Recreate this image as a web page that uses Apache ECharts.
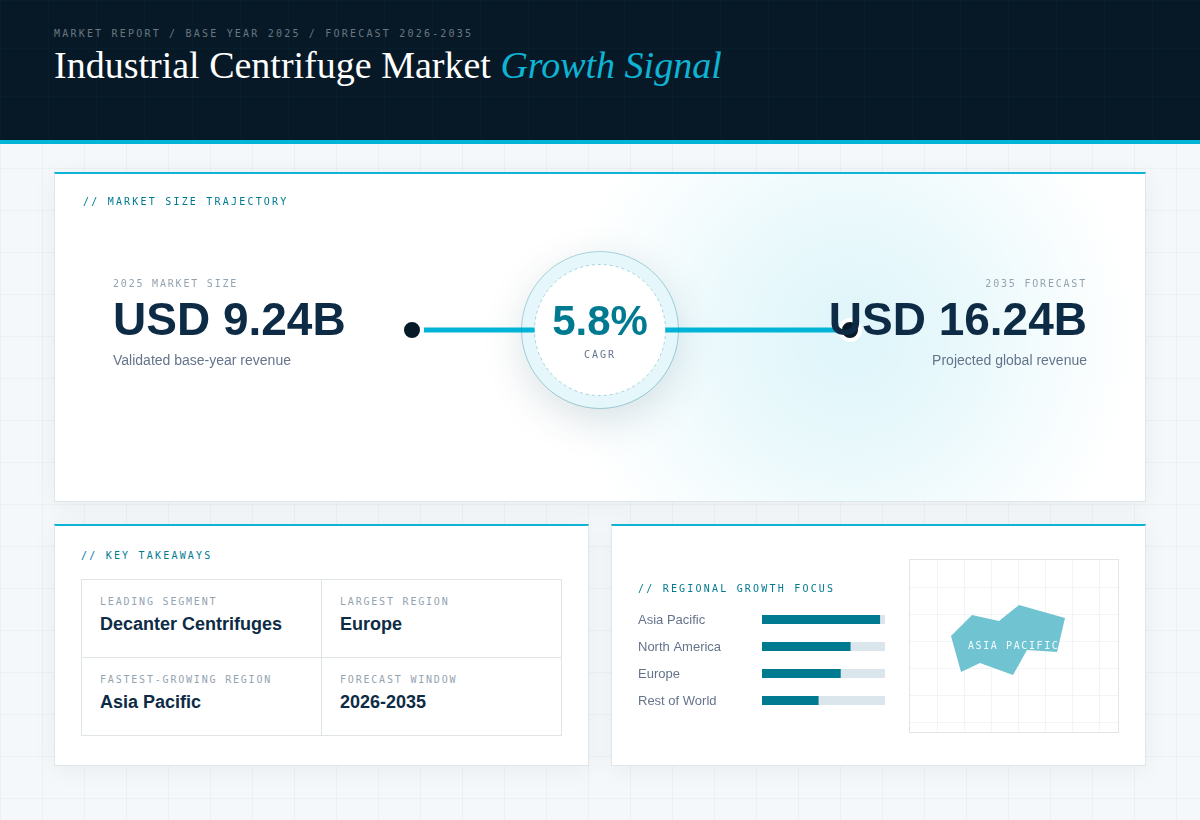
<!DOCTYPE html>
<html>
<head>
<meta charset="utf-8">
<title>Industrial Centrifuge Market</title>
<script src="https://cdn.jsdelivr.net/npm/echarts@6/dist/echarts.min.js"></script>
<style>
    html, body { margin: 0; padding: 0; }
    body {
        position: relative; width: 1200px; height: 820px; overflow: hidden;
        background-color: #f5f8fa;
        background-image:
            linear-gradient(rgba(7, 26, 40, .03) 1px, transparent 1px),
            linear-gradient(90deg, rgba(7, 26, 40, .03) 1px, transparent 1px);
        background-size: 42px 42px;
        background-position: 0 0, 0 0;
        font-family: "Liberation Sans", sans-serif;
    }
    .abs { position: absolute; white-space: nowrap; }
    .mono { font-family: "DejaVu Sans Mono", monospace; font-size: 10px; line-height: 12px; }
    #header {
        position: absolute; left: 0; top: 0; width: 1200px; height: 140px;
        border-bottom: 4px solid #00b4d8;
        background-color: #071926;
        background-image:
            linear-gradient(rgba(0, 180, 216, .03) 1px, transparent 1px),
            linear-gradient(90deg, rgba(0, 180, 216, .03) 1px, transparent 1px);
        background-size: 48px 48px;
    }
    #eyebrow { left: 54px; top: 28px; letter-spacing: 2.2px; color: #6a7780; }
    #title {
        left: 54px; top: 43px; font-family: "Liberation Serif", serif;
        font-size: 38px; line-height: 44px; color: #fff;
    }
    #title em { color: #0fb3d3; }
    .card {
        position: absolute; box-sizing: border-box; background: #fff;
        border: 1px solid #dfe6ea; border-top: 2px solid #0fb3d3;
        box-shadow: 0 4px 24px rgba(7, 26, 40, .05);
        overflow: hidden;
    }
    #heroCard {
        left: 54px; top: 172px; width: 1092px; height: 330px;
        background-image: radial-gradient(circle 290px at 795px 165px, rgba(0, 180, 216, .13), rgba(0, 180, 216, .085) 40%, rgba(0, 180, 216, .04) 70%, rgba(0, 180, 216, 0));
    }
    #takeCard { left: 54px; top: 524px; width: 535px; height: 242px; }
    #regionCard { left: 611px; top: 524px; width: 535px; height: 242px; }
    .sect { letter-spacing: 2.2px; color: #007a91; }
    .kpi-label { letter-spacing: 1.8px; color: #94a3b0; }
    .kpi-value { font-size: 46px; line-height: 48px; font-weight: 700; color: #0d2b45; }
    .kpi-sub { font-size: 14px; line-height: 18px; color: #64748b; }
    #cagrValue { left: 500px; width: 200px; text-align: center; top: 297px; font-size: 42px; line-height: 48px; font-weight: 700; color: #007a91; }
    #cagrLabel { left: 500px; width: 200px; text-align: center; top: 349px; letter-spacing: 2px; color: #64748b; }
    #takeGrid { position: absolute; left: 81px; top: 579px; width: 481px; height: 157px; box-sizing: border-box; border: 1px solid #dfe4e8; }
    #takeGrid i { position: absolute; background: #dfe4e8; }
    .cell-value { font-size: 18px; line-height: 22px; font-weight: 700; color: #0d2b45; }
    #mapBox { position: absolute; left: 909px; top: 559px; width: 210px; height: 174px; box-sizing: border-box; border: 1px solid #dfe5e9; }
    #heroChart { position: absolute; left: 55px; top: 174px; width: 1090px; height: 327px; }
    #regionChart { position: absolute; left: 612px; top: 526px; width: 533px; height: 239px; }
    #mapLabel { left: 968px; top: 640px; letter-spacing: 1.6px; color: #f2fbfd; }
</style>
</head>
<body>
<div id="header"></div>
<div id="heroCard" class="card"></div>
<div id="takeCard" class="card"></div>
<div id="regionCard" class="card"></div>
<div id="takeGrid"><i style="left:239px;top:0;width:1px;height:155px"></i><i style="left:0;top:77px;width:479px;height:1px"></i></div>
<div id="mapBox"></div>
<div id="heroChart"></div>
<div id="regionChart"></div>
<div id="textLayer"></div>

<script>
    var eyebrowText = 'MARKET REPORT / BASE YEAR 2025 / FORECAST 2026-2035';
    var titleText = 'Industrial Centrifuge Market';
    var titleAccent = 'Growth Signal';

    // market size trajectory
    var trajectoryYears = [2025, 2035];
    var trajectoryLevel = [0, 0];
    var sizeLabels = ['2025 MARKET SIZE', '2035 FORECAST'];
    var sizeValues = ['USD 9.24B', 'USD 16.24B'];
    var sizeNotes = ['Validated base-year revenue', 'Projected global revenue'];
    var cagrText = '5.8%';

    // key takeaways
    var takeawayLabels = ['LEADING SEGMENT', 'LARGEST REGION', 'FASTEST-GROWING REGION', 'FORECAST WINDOW'];
    var takeawayValues = ['Decanter Centrifuges', 'Europe', 'Asia Pacific', '2026-2035'];

    // regional growth focus
    var regions = ['Asia Pacific', 'North America', 'Europe', 'Rest of World'];
    var regionScores = [96, 72, 64, 46];

    // map outline, in the units of the map grid
    var mapOutlineX = [62, 89, 109, 155, 147, 117, 103, 70, 51, 41];
    var mapOutlineY = [55, 61, 45, 58, 92, 90, 115, 103, 112, 76];
    var mapLabel = 'ASIA PACIFIC';

    function addText(id, cls, left, top, text, extra) {
        var el = document.createElement('div');
        if (id) el.id = id;
        el.className = 'abs ' + cls;
        if (left !== null) el.style.left = left + 'px';
        if (top !== null) el.style.top = top + 'px';
        if (extra) el.style.cssText += extra;
        el.textContent = text;
        document.getElementById('textLayer').appendChild(el);
        return el;
    }

    addText('eyebrow', 'mono', null, null, eyebrowText);
    addText('title', '', null, null, titleText + ' ').innerHTML += '<em>' + titleAccent + '</em>';

    addText('', 'mono sect', 83, 196, '// MARKET SIZE TRAJECTORY');
    addText('', 'mono kpi-label', 113, 278, sizeLabels[0]);
    addText('', 'kpi-value', 113, 295, sizeValues[0]);
    addText('', 'kpi-sub', 113, 351, sizeNotes[0]);
    addText('', 'mono kpi-label', null, 278, sizeLabels[1], 'right:113px');
    addText('', 'kpi-value', null, 295, sizeValues[1], 'right:113px');
    addText('', 'kpi-sub', null, 351, sizeNotes[1], 'right:113px');
    addText('cagrValue', '', null, null, cagrText);
    addText('cagrLabel', 'mono', null, null, 'CAGR');

    addText('', 'mono sect', 81, 550, '// KEY TAKEAWAYS');
    var cellX = [100, 340], cellY = [596, 674];
    takeawayLabels.forEach(function (label, i) {
        var x = cellX[i % 2], y = cellY[Math.floor(i / 2)];
        addText('', 'mono kpi-label', x, y, label);
        addText('', 'cell-value', x, y + 17, takeawayValues[i]);
    });

    addText('', 'mono sect', 638, 583, '// REGIONAL GROWTH FOCUS');
    addText('mapLabel', 'mono', null, null, mapLabel);

    var heroChart = echarts.init(document.getElementById('heroChart'));
    heroChart.setOption({
        animation: false,
        grid: { left: 357, top: 146, width: 438, height: 20 },
        xAxis: { type: 'value', min: 2025, max: 2035, show: false },
        yAxis: { type: 'value', min: -1, max: 1, show: false },
        series: [{
            type: 'line',
            clip: false,
            silent: true,
            data: trajectoryYears.map(function (year, i) { return [year, trajectoryLevel[i]]; }),
            lineStyle: { color: '#00b4d8', width: 5 },
            symbol: 'circle',
            symbolSize: 20,
            showSymbol: true,
            itemStyle: { color: '#071a28', borderColor: '#fff', borderWidth: 4, opacity: 1 }
        }],
        graphic: [
            { type: 'circle', z: 1, silent: true, shape: { cx: 545, cy: 156, r: 78 },
              style: { fill: '#fff', shadowBlur: 40, shadowOffsetY: 12, shadowColor: 'rgba(7,60,80,.15)' } },
            { type: 'circle', z: 5, silent: true, shape: { cx: 545, cy: 156, r: 78.5 },
              style: { fill: 'rgba(0,180,216,.1)', stroke: 'rgba(0,122,145,.28)', lineWidth: 1 } },
            { type: 'circle', z: 6, silent: true, shape: { cx: 545, cy: 156, r: 65.5 },
              style: { fill: '#fff', stroke: 'rgba(0,122,145,.3)', lineWidth: 1, lineDash: [3, 3] } }
        ]
    });

    var regionChart = echarts.init(document.getElementById('regionChart'));
    regionChart.setOption({
        animation: false,
        grid: [
            { left: 150, top: 80, width: 123, height: 108 },
            { left: 298, top: 34, width: 208, height: 172 }
        ],
        xAxis: [
            { type: 'value', gridIndex: 0, min: 0, max: 100, show: false },
            { type: 'value', gridIndex: 1, min: 0, max: 208, interval: 27,
              axisLine: { show: false }, axisTick: { show: false }, axisLabel: { show: false },
              splitLine: { show: true, showMinLine: false, showMaxLine: false, lineStyle: { color: '#f2f5f7', width: 1 } } }
        ],
        yAxis: [
            { type: 'category', gridIndex: 0, inverse: true, data: regions,
              axisLine: { show: false }, axisTick: { show: false },
              axisLabel: { align: 'left', verticalAlign: 'top', lineHeight: 2, margin: 124, fontFamily: 'Liberation Sans', fontSize: 13, color: '#64748b' } },
            { type: 'value', gridIndex: 1, inverse: true, min: 0, max: 172, interval: 27,
              axisLine: { show: false }, axisTick: { show: false }, axisLabel: { show: false },
              splitLine: { show: true, showMinLine: false, showMaxLine: false, lineStyle: { color: '#f2f5f7', width: 1 } } }
        ],
        series: [
            {
                type: 'bar',
                xAxisIndex: 0,
                yAxisIndex: 0,
                silent: true,
                barWidth: 9,
                data: regionScores,
                showBackground: true,
                backgroundStyle: { color: '#dbe5ec' },
                itemStyle: { color: '#007a91' }
            },
            {
                type: 'custom',
                xAxisIndex: 1,
                yAxisIndex: 1,
                silent: true,
                clip: false,
                data: [0],
                renderItem: function (params, api) {
                    var points = mapOutlineX.map(function (x, i) {
                        return api.coord([x, mapOutlineY[i]]);
                    });
                    return { type: 'polygon', shape: { points: points }, style: { fill: '#70c3d1' } };
                }
            }
        ]
    });
</script>
</body>
</html>
